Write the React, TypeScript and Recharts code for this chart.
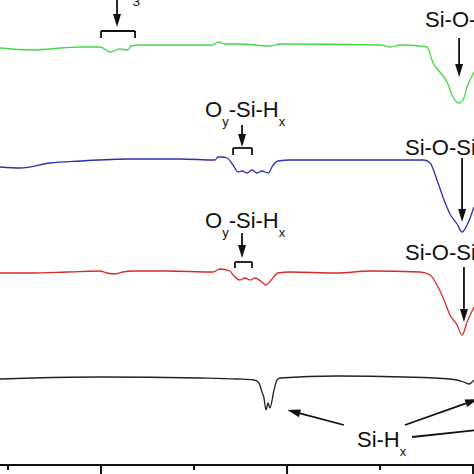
import React from 'react'
import { LineChart, Line, XAxis, YAxis, ReferenceLine, ReferenceDot } from 'recharts'

// wavenumber (cm-1) and transmittance (a.u., traces offset)
const greenWn = [3543, 3380, 3110, 3005, 2950, 2900, 2855, 2840, 2790, 2470, 2400, 2370, 2335, 2255, 2090, 2040, 1500, 1445, 1392, 1285, 1247, 1215, 1188, 1140, 1108, 1075, 1054, 1032, 995]
const greenT = [417, 415, 418, 418, 413, 416, 415, 419, 420, 420, 420, 423, 421, 421, 419, 421, 420, 418, 420, 419, 418, 402, 395, 383, 368, 362, 365, 378, 393]

const blueWn = [3543, 3435, 3274, 3113, 2844, 2575, 2387, 2371, 2350, 2323, 2290, 2264, 2242, 2215, 2188, 2161, 2135, 2102, 2075, 2048, 1984, 1554, 1264, 1231, 1194, 1156, 1124, 1086, 1059, 1032, 995]
const blueT = [298, 297, 302, 304, 306, 306, 305, 308, 308, 307, 300, 293, 294, 292, 295, 292, 294, 292, 300, 304, 305, 305, 305, 302, 285, 265, 251, 241, 233, 240, 258]

const redWn = [3543, 3366, 3183, 3005, 2968, 2925, 2882, 2828, 2645, 2398, 2360, 2307, 2290, 2253, 2226, 2199, 2172, 2135, 2113, 2081, 2048, 1984, 1731, 1554, 1285, 1231, 1194, 1156, 1124, 1086, 1059, 1032, 995]
const redT = [192, 192, 193, 194, 192, 191, 193, 194, 194, 193, 196, 194, 190, 185, 187, 185, 187, 183, 180, 186, 192, 193, 192, 194, 193, 190, 180, 165, 150, 140, 130, 143, 158]

const blackWn = [3543, 3366, 3005, 2468, 2269, 2178, 2151, 2135, 2124, 2113, 2102, 2092, 2070, 2054, 2038, 1731, 1371, 1124, 1049, 1022, 995]
const blackT = [86, 87, 88, 87, 86, 85, 82, 73, 67, 55, 62, 57, 75, 85, 87, 89, 88, 86, 83, 81, 85]

const tickValues = [3500, 3000, 2500, 2000, 1500, 1000]

const toRows = (wn: number[], t: number[]) => wn.map((w, i) => ({ wn: w, t: t[i] }))

// annotation arrows: [fromWn, fromT, toWn, toT, hasHead]
const arrows: [number, number, number, number, boolean][] = [
  [2914, 465, 2914, 438, true],
  [1075, 427, 1075, 388, true],
  [2242, 340, 2242, 318, true],
  [1059, 307, 1059, 243, true],
  [2242, 232, 2242, 207, true],
  [1049, 198, 1049, 143, true],
  [1694, 40, 1998, 55, true],
  [1366, 40, 973, 66, true],
  [1328, 28, 973, 35, false],
]

// brackets: [leftWn, rightWn, topT, legT]
const brackets: [number, number, number, number][] = [
  [3000, 2817, 434, 427],
  [2290, 2188, 317, 310],
  [2280, 2188, 203, 197],
]

// labels: [wn, t, parts] where parts alternate normal / subscript
const labels: [number, number, string[]][] = [
  [3000, 468, ['CH', '3']],
  [1258, 438, ['Si-O-Si']],
  [2441, 348, ['O', 'y', '-Si-H', 'x']],
  [1366, 310, ['Si-O-Si']],
  [2441, 237, ['O', 'y', '-Si-H', 'x']],
  [1366, 205, ['Si-O-Si']],
  [1624, 18, ['Si-H', 'x']],
]

const ink = '#111'
const font = 'Liberation Sans, Arial, sans-serif'

function Arrow(props: any) {
  const { x1, y1, x2, y2, head } = props
  const a = Math.atan2(y2 - y1, x2 - x1)
  const len = head ? 13 : 0
  const w = 4
  const bx = x2 - len * Math.cos(a)
  const by = y2 - len * Math.sin(a)
  const pts = `${x2},${y2} ${bx - w * Math.sin(a)},${by + w * Math.cos(a)} ${bx + w * Math.sin(a)},${by - w * Math.cos(a)}`
  return (
    <g>
      <line x1={x1} y1={y1} x2={bx} y2={by} stroke={ink} strokeWidth={1.8} />
      {head && <polygon points={pts} fill={ink} />}
    </g>
  )
}

function Segment(props: any) {
  const { x1, y1, x2, y2 } = props
  return <line x1={x1} y1={y1} x2={x2} y2={y2} stroke={ink} strokeWidth={1.8} />
}

function Note(props: any) {
  const { cx, cy, parts } = props
  return (
    <text x={cx} y={cy} fill={ink} fontFamily={font} fontSize={22}>
      {parts.map((p: string, i: number) =>
        i % 2 === 1 ? (
          <tspan key={i} dy={9} fontSize={13}>{p}</tspan>
        ) : (
          <tspan key={i} dy={i === 0 ? 0 : -9} fontSize={22}>{p}</tspan>
        )
      )}
    </text>
  )
}

function TickMark(props: any) {
  const { x, y, payload } = props
  const len = payload.value % 1000 === 0 ? 9 : 5
  return <line x1={x} y1={y} x2={x} y2={y + len} stroke={ink} strokeWidth={2} />
}

export default function App() {
  return (
    <div style={{ position: 'absolute', left: 0, top: 0, background: '#fff' }}>
      <LineChart width={474} height={474} margin={{ top: 0, right: 0, bottom: 0, left: 0 }}>
        <XAxis
          dataKey="wn"
          type="number"
          domain={[995, 3543]}
          reversed
          ticks={tickValues}
          interval={0}
          height={9}
          tickSize={0}
          tickMargin={0}
          tickLine={false}
          tick={<TickMark />}
          axisLine={{ stroke: ink, strokeWidth: 2 }}
          allowDataOverflow
        />
        <YAxis type="number" domain={[0, 465]} hide allowDataOverflow />
        <Line data={toRows(greenWn, greenT)} dataKey="t" type="monotone" stroke="#45d845" strokeWidth={1.3} dot={false} activeDot={false} isAnimationActive={false} />
        <Line data={toRows(blueWn, blueT)} dataKey="t" type="monotone" stroke="#2f2fae" strokeWidth={1.3} dot={false} activeDot={false} isAnimationActive={false} />
        <Line data={toRows(redWn, redT)} dataKey="t" type="monotone" stroke="#d62a2a" strokeWidth={1.3} dot={false} activeDot={false} isAnimationActive={false} />
        <Line data={toRows(blackWn, blackT)} dataKey="t" type="monotone" stroke="#222" strokeWidth={1.3} dot={false} activeDot={false} isAnimationActive={false} />
        {arrows.map(([a, b, c, d, h], i) => (
          <ReferenceLine
            key={'a' + i}
            segment={[{ x: a, y: b }, { x: c, y: d }]}
            ifOverflow="visible"
            shape={(p: any) => <Arrow {...p} head={h} />}
          />
        ))}
        {brackets.map(([l, r, top, leg], i) => (
          <React.Fragment key={'b' + i}>
            <ReferenceLine segment={[{ x: l, y: top }, { x: r, y: top }]} ifOverflow="visible" shape={<Segment />} />
            <ReferenceLine segment={[{ x: l, y: top }, { x: l, y: leg }]} ifOverflow="visible" shape={<Segment />} />
            <ReferenceLine segment={[{ x: r, y: top }, { x: r, y: leg }]} ifOverflow="visible" shape={<Segment />} />
          </React.Fragment>
        ))}
        {labels.map(([w, t, parts], i) => (
          <ReferenceDot
            key={'l' + i}
            x={w}
            y={t}
            r={0}
            ifOverflow="visible"
            shape={(p: any) => <Note {...p} parts={parts} />}
          />
        ))}
      </LineChart>
    </div>
  )
}
